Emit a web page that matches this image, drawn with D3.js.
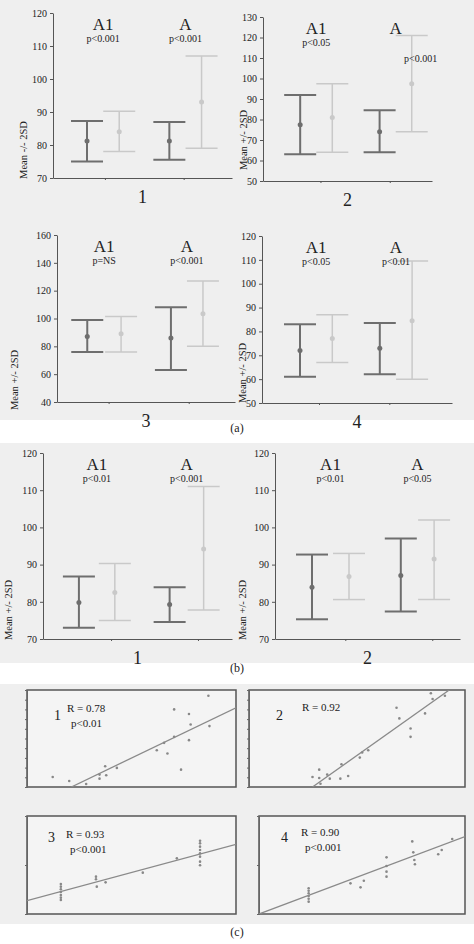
<!DOCTYPE html>
<html><head><meta charset="utf-8">
<script src="https://cdn.jsdelivr.net/npm/d3@7"></script>
<style>body{margin:0;background:#fff}text{font-family:"Liberation Serif",serif;fill:#222}</style>
</head><body>
<script>
// error bar data: [mean, low, high] for A1 dark, A1 light, A dark, A light
let a1_bars = [[81.2, 75, 87.3], [84, 78, 90.2], [81.2, 75.5, 87], [93, 79, 107]]
let a2_bars = [[77.5, 63, 92], [81, 64, 97.5], [74, 64, 84.5], [97.5, 74, 121]]
let a3_bars = [[87, 76, 99], [89, 76, 101.5], [86, 63, 108], [103.5, 80, 127]]
let a4_bars = [[72, 61, 83], [77, 67, 87], [73, 62, 83.5], [84.5, 60, 109.5]]
let b1_bars = [[79.8, 73, 86.8], [82.5, 75, 90.3], [79.3, 74.6, 83.9], [94.2, 77.8, 111]]
let b2_bars = [[83.9, 75.3, 92.7], [86.8, 80.6, 93], [87.1, 77.4, 97], [91.5, 80.6, 102]]
let group_names = ['A1', 'A']
let a1_p = ['p<0.001', 'p<0.001']
let a2_p = ['p<0.05', 'p<0.001']
let a3_p = ['p=NS', 'p<0.001']
let a4_p = ['p<0.05', 'p<0.01']
let b1_p = ['p<0.01', 'p<0.001']
let b2_p = ['p<0.01', 'p<0.05']

// scatter data, x and y in 0..100 units
let c1_points = [[12.3,10.3],[20.2,6.2],[28.3,3.1],[34.7,12.8],[34.7,8.6],[37.4,21.4],[37.9,12.1],[43,19.7],[62.1,37.9],[65.6,45.5],[67.2,34.5],[70.4,80],[70.4,51.7],[73.7,17.9],[77.5,75.2],[77.5,48.3],[78.3,64.5],[86.8,94.1],[87.3,62.8]]
let c2_points = [[29.4,10.3],[32.5,17.9],[32.5,9.3],[33.1,3.4],[36.2,12.8],[37.4,8.6],[42.3,8.6],[42.8,23.4],[45.9,11.4],[51.3,30.3],[52.4,35.5],[55.2,37.9],[68.3,81.7],[69.6,70.7],[74.8,60.3],[74.8,51.7],[81.5,75.9],[84.2,96.6],[85,90.7],[90.7,94.1]]
let c3_points = [[16.2,30.6],[16.2,27.9],[16.2,25.2],[16.2,22.4],[16.2,19.4],[16.2,16.7],[16.2,14.3],[33,38.1],[33,35.4],[33.4,27.9],[37.6,32.3],[55.4,42.2],[71.7,56.8],[82.8,74.8],[82.8,72.1],[82.8,68.7],[82.8,65.3],[82.8,61.9],[82.8,58.5],[82.8,53.4],[82.8,49.7]]
let c4_points = [[24.1,26.2],[24.1,23.8],[24.1,21.1],[24.1,18.4],[24.1,15.6],[24.1,12.6],[44.4,31.3],[49.3,27.2],[50.9,34],[61.9,57.8],[61.9,49],[61.9,43.2],[61.9,38.1],[74.4,74.1],[74.9,62.9],[75.4,55.1],[75.7,50.7],[87,60.9],[88.7,65.3],[93.8,76.5]]
let c1_fit = [[21.2, 0], [100, 81.7]]
let c2_fit = [[29.4, 0], [92.7, 100]]
let c3_fit = [[0, 13.6], [100, 71.1]]
let c4_fit = [[0, 0], [100, 78.9]]

let dark = '#6e6e6e'
let light = '#c9c9c9'
let svg = d3.select('body').append('svg').attr('width', 474).attr('height', 944)

svg.append('rect').attr('x', 0).attr('y', 0).attr('width', 474).attr('height', 420).attr('fill', '#efefef')
svg.append('rect').attr('x', 0).attr('y', 443).attr('width', 474).attr('height', 220).attr('fill', '#efefef')
svg.append('rect').attr('x', 0).attr('y', 684).attr('width', 474).attr('height', 240).attr('fill', '#efefef')

function errorChart(c) {
    let g = svg.append('g')
    let y = d3.scaleLinear().domain(c.domain).range([c.bottom, c.top])
    let x = d3.scaleLinear().domain([0, 1]).range([c.left, c.right])
    g.append('g').attr('transform', `translate(${c.left},0)`)
        .call(d3.axisLeft(y).ticks(c.ticks).tickSize(3).tickSizeOuter(0))
        .call(a => a.selectAll('text').style('font-family', 'Liberation Serif').style('font-size', '10px').attr('fill', '#333'))
        .call(a => a.selectAll('line,path').attr('stroke', '#555'))
    g.append('g').attr('transform', `translate(0,${c.bottom})`)
        .call(d3.axisBottom(x).tickValues(c.groupTicks).tickSize(2).tickSizeOuter(0).tickFormat(''))
        .call(a => a.selectAll('line,path').attr('stroke', '#555'))
    c.data.forEach((d, i) => {
        let col = i % 2 ? light : dark
        let w = i % 2 ? 1.5 : 2
        let cx = x(c.pos[i])
        g.append('line').attr('x1', cx).attr('x2', cx).attr('y1', y(d[1])).attr('y2', y(d[2])).attr('stroke', col).attr('stroke-width', w)
        ;[d[1], d[2]].forEach(v => g.append('line').attr('x1', cx - 16).attr('x2', cx + 16).attr('y1', y(v)).attr('y2', y(v)).attr('stroke', col).attr('stroke-width', w))
        g.append('circle').attr('cx', cx).attr('cy', y(d[0])).attr('r', 2.5).attr('fill', col)
    })
    group_names.forEach((n, i) => {
        let gx = x((c.pos[2 * i] + c.pos[2 * i + 1]) / 2)
        g.append('text').attr('x', gx).attr('y', c.top + 17).attr('text-anchor', 'middle').style('font-size', '17px').text(n)
        let pp = c.pOffset && i == 1 ? c.pOffset : [0, 0]
        g.append('text').attr('x', gx + pp[0]).attr('y', c.top + 29 + pp[1]).attr('text-anchor', 'middle').style('font-size', '10px').text(c.p[i])
    })
    g.append('text').attr('transform', `translate(${c.labelX},${c.labelY}) rotate(-90)`)
        .attr('text-anchor', 'middle').style('font-size', '10.5px').text(c.ylabel)
    g.append('text').attr('x', x(0.5)).attr('y', c.bottom + 25).attr('text-anchor', 'middle').style('font-size', '18px').text(c.name)
}

errorChart({data: a1_bars, p: a1_p, name: '1', domain: [70, 120], ticks: 5, left: 53, right: 232, top: 13, bottom: 178, pos: [0.19, 0.37, 0.65, 0.83], groupTicks: [0.29, 0.73], labelX: 27, labelY: 150, ylabel: 'Mean -/- 2SD'})
errorChart({data: a2_bars, p: a2_p, name: '2', domain: [50, 130], ticks: 8, left: 263, right: 432, top: 17, bottom: 181, pos: [0.22, 0.41, 0.69, 0.88], groupTicks: [0.34, 0.75], labelX: 247, labelY: 140, ylabel: 'Mean +/- 2SD', pOffset: [25, 16]})
errorChart({data: a3_bars, p: a3_p, name: '3', domain: [40, 160], ticks: 6, left: 57, right: 235, top: 235, bottom: 402, pos: [0.17, 0.36, 0.64, 0.82], groupTicks: [0.29, 0.74], labelX: 18, labelY: 380, ylabel: 'Mean +/- 2SD'})
errorChart({data: a4_bars, p: a4_p, name: '4', domain: [50, 120], ticks: 7, left: 262, right: 452, top: 236, bottom: 403, pos: [0.2, 0.37, 0.62, 0.79], groupTicks: [0.3, 0.67], labelX: 246, labelY: 373, ylabel: 'Mean +/- 2SD'})
errorChart({data: b1_bars, p: b1_p, name: '1', domain: [70, 120], ticks: 5, left: 43, right: 232, top: 453, bottom: 639, pos: [0.19, 0.38, 0.67, 0.85], groupTicks: [0.36, 0.82], labelX: 12, labelY: 610, ylabel: 'Mean +/- 2SD'})
errorChart({data: b2_bars, p: b2_p, name: '2', domain: [70, 120], ticks: 5, left: 275, right: 460, top: 453, bottom: 639, pos: [0.2, 0.4, 0.68, 0.86], groupTicks: [0.38, 0.85], labelX: 246, labelY: 610, ylabel: 'Mean +/- 2SD'})

svg.append('text').attr('x', 237).attr('y', 432).attr('text-anchor', 'middle').style('font-size', '12px').text('(a)')
svg.append('text').attr('x', 237).attr('y', 672).attr('text-anchor', 'middle').style('font-size', '12px').text('(b)')
svg.append('text').attr('x', 237).attr('y', 936).attr('text-anchor', 'middle').style('font-size', '12px').text('(c)')

function scatterChart(c) {
    let g = svg.append('g')
    let x = d3.scaleLinear().domain([0, 100]).range([c.left, c.right])
    let y = d3.scaleLinear().domain([0, 100]).range([c.bottom, c.top])
    g.append('rect').attr('x', c.left).attr('y', c.top).attr('width', c.right - c.left).attr('height', c.bottom - c.top)
        .attr('fill', '#f4f4f4').attr('stroke', '#555').attr('stroke-width', 1.5)
    g.append('g').attr('transform', `translate(${c.left},0)`)
        .call(d3.axisLeft(y).ticks(c.yticks).tickSize(2).tickFormat(''))
        .call(a => a.selectAll('line,path').attr('stroke', '#666'))
    g.append('clipPath').attr('id', 'clip' + c.name).append('rect')
        .attr('x', c.left).attr('y', c.top).attr('width', c.right - c.left).attr('height', c.bottom - c.top)
    g.append('path').datum(c.fit).attr('clip-path', `url(#clip${c.name})`)
        .attr('d', d3.line().x(d => x(d[0])).y(d => y(d[1])))
        .attr('stroke', '#8a8a8a').attr('stroke-width', 1.3).attr('fill', 'none')
    g.selectAll('.pt').data(c.points).enter().append('circle')
        .attr('cx', d => x(d[0])).attr('cy', d => y(d[1])).attr('r', 1.3).attr('fill', '#888')
    g.append('text').attr('x', c.numX).attr('y', c.numY).style('font-size', '14px').text(c.name)
    c.lines.forEach((t, i) => g.append('text').attr('x', c.textX + (i ? 4 : 0)).attr('y', c.textY + i * 15).style('font-size', '11px').text(t))
}

scatterChart({name: '1', points: c1_points, fit: c1_fit, left: 27, right: 236, top: 690, bottom: 787, yticks: 8, numX: 54, numY: 720, textX: 67, textY: 712, lines: ['R = 0.78', 'p<0.01']})
scatterChart({name: '2', points: c2_points, fit: c2_fit, left: 249, right: 465, top: 690, bottom: 787, yticks: 8, numX: 276, numY: 720, textX: 302, textY: 711, lines: ['R = 0.92']})
scatterChart({name: '3', points: c3_points, fit: c3_fit, left: 27, right: 236, top: 816, bottom: 914, yticks: 3, numX: 48, numY: 842, textX: 66, textY: 838, lines: ['R = 0.93', 'p<0.001']})
scatterChart({name: '4', points: c4_points, fit: c4_fit, left: 259, right: 465, top: 816, bottom: 914, yticks: 3, numX: 281, numY: 842, textX: 301, textY: 836, lines: ['R = 0.90', 'p<0.001']})
</script>
</body></html>
